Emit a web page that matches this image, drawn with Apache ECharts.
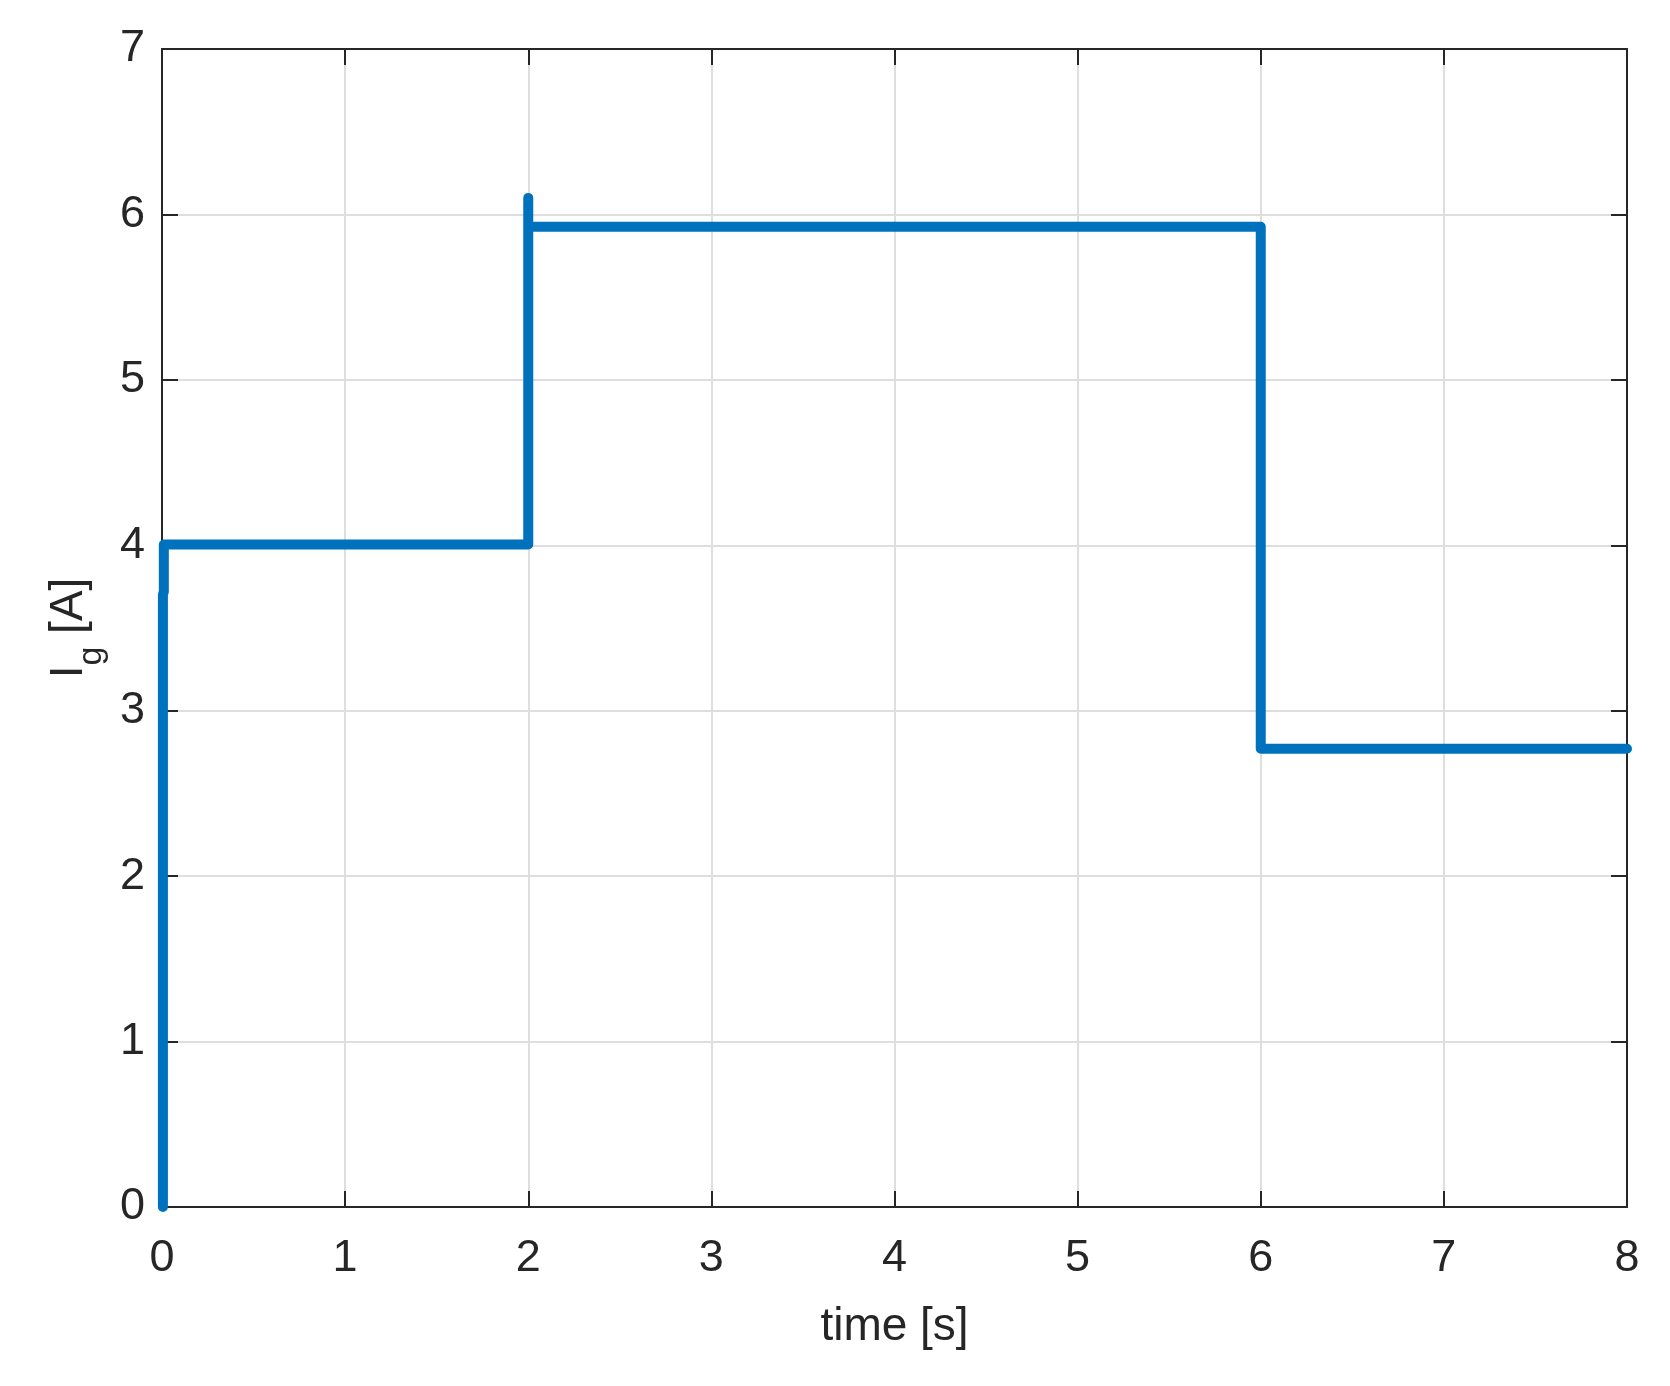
<!DOCTYPE html>
<html>
<head>
<meta charset="utf-8">
<script src="https://cdn.jsdelivr.net/npm/echarts@6/dist/echarts.min.js"></script>
<style>
  html, body { margin: 0; padding: 0; background: #fff; }
  #chart { width: 1670px; height: 1386px; }
</style>
</head>
<body>
<div id="chart"></div>
<script>
// time samples [s] and measured current Ig [A]
const timeValues = [0.005, 0.005, 0.01, 0.01, 2.0, 2.0, 2.0, 6.0, 6.0, 8.0];
const currentValues = [0, 3.70, 3.72, 4.005, 4.005, 6.10, 5.925, 5.925, 2.77, 2.77];

const xTicks = [0, 1, 2, 3, 4, 5, 6, 7, 8];
const yTicks = [0, 1, 2, 3, 4, 5, 6, 7];

const fontFam = "'Liberation Sans', Arial, Helvetica, sans-serif";
const ink = '#262626';

const chart = echarts.init(document.getElementById('chart'));

// shared look for the box axes (ticks point inward like matlab)
const boxAxis = {
    axisLine: { show: true, onZero: false, lineStyle: { color: ink, width: 2 } },
    axisTick: { show: true, inside: true, length: 16, lineStyle: { color: ink, width: 2 } }
};

const option = {
    animation: false,
    backgroundColor: '#fff',
    grid: { left: 162, top: 49, width: 1465, height: 1158 },
    xAxis: [
        {
            type: 'value', min: xTicks[0], max: xTicks[xTicks.length - 1], interval: 1,
            position: 'bottom',
            ...boxAxis,
            axisLabel: { fontSize: 45, color: ink, fontFamily: fontFam, margin: 29 },
            splitLine: { show: true, lineStyle: { color: '#dedede', width: 2 } },
            name: 'time [s]',
            nameLocation: 'middle',
            nameGap: 97,
            nameTextStyle: { fontSize: 46, color: ink, fontFamily: fontFam }
        },
        {
            type: 'value', min: xTicks[0], max: xTicks[xTicks.length - 1], interval: 1,
            position: 'top',
            ...boxAxis,
            axisLabel: { show: false },
            splitLine: { show: false }
        }
    ],
    yAxis: [
        {
            type: 'value', min: yTicks[0], max: yTicks[yTicks.length - 1], interval: 1,
            position: 'left',
            ...boxAxis,
            axisLabel: { fontSize: 45, color: ink, fontFamily: fontFam, margin: 17 },
            splitLine: { show: true, lineStyle: { color: '#dedede', width: 2 } },
            name: '{n|I}{s|g}{n| [A]}',
            nameLocation: 'middle',
            nameGap: 66,
            nameTextStyle: {
                color: ink,
                fontFamily: fontFam,
                rich: {
                    n: { fontSize: 46, lineHeight: 46, verticalAlign: 'top', color: ink, fontFamily: fontFam },
                    s: { fontSize: 34, lineHeight: 34, padding: [46, 0, 0, 0], color: ink, fontFamily: fontFam }
                }
            }
        },
        {
            type: 'value', min: yTicks[0], max: yTicks[yTicks.length - 1], interval: 1,
            position: 'right',
            ...boxAxis,
            axisLabel: { show: false },
            splitLine: { show: false }
        }
    ],
    series: [
        {
            type: 'line',
            xAxisIndex: 0,
            yAxisIndex: 0,
            data: timeValues.map((t, i) => [t, currentValues[i]]),
            showSymbol: false,
            symbol: 'none',
            clip: false,
            lineStyle: { color: '#0072BD', width: 10, cap: 'round', join: 'round' },
            z: 5
        }
    ]
};

chart.setOption(option);
</script>
</body>
</html>
